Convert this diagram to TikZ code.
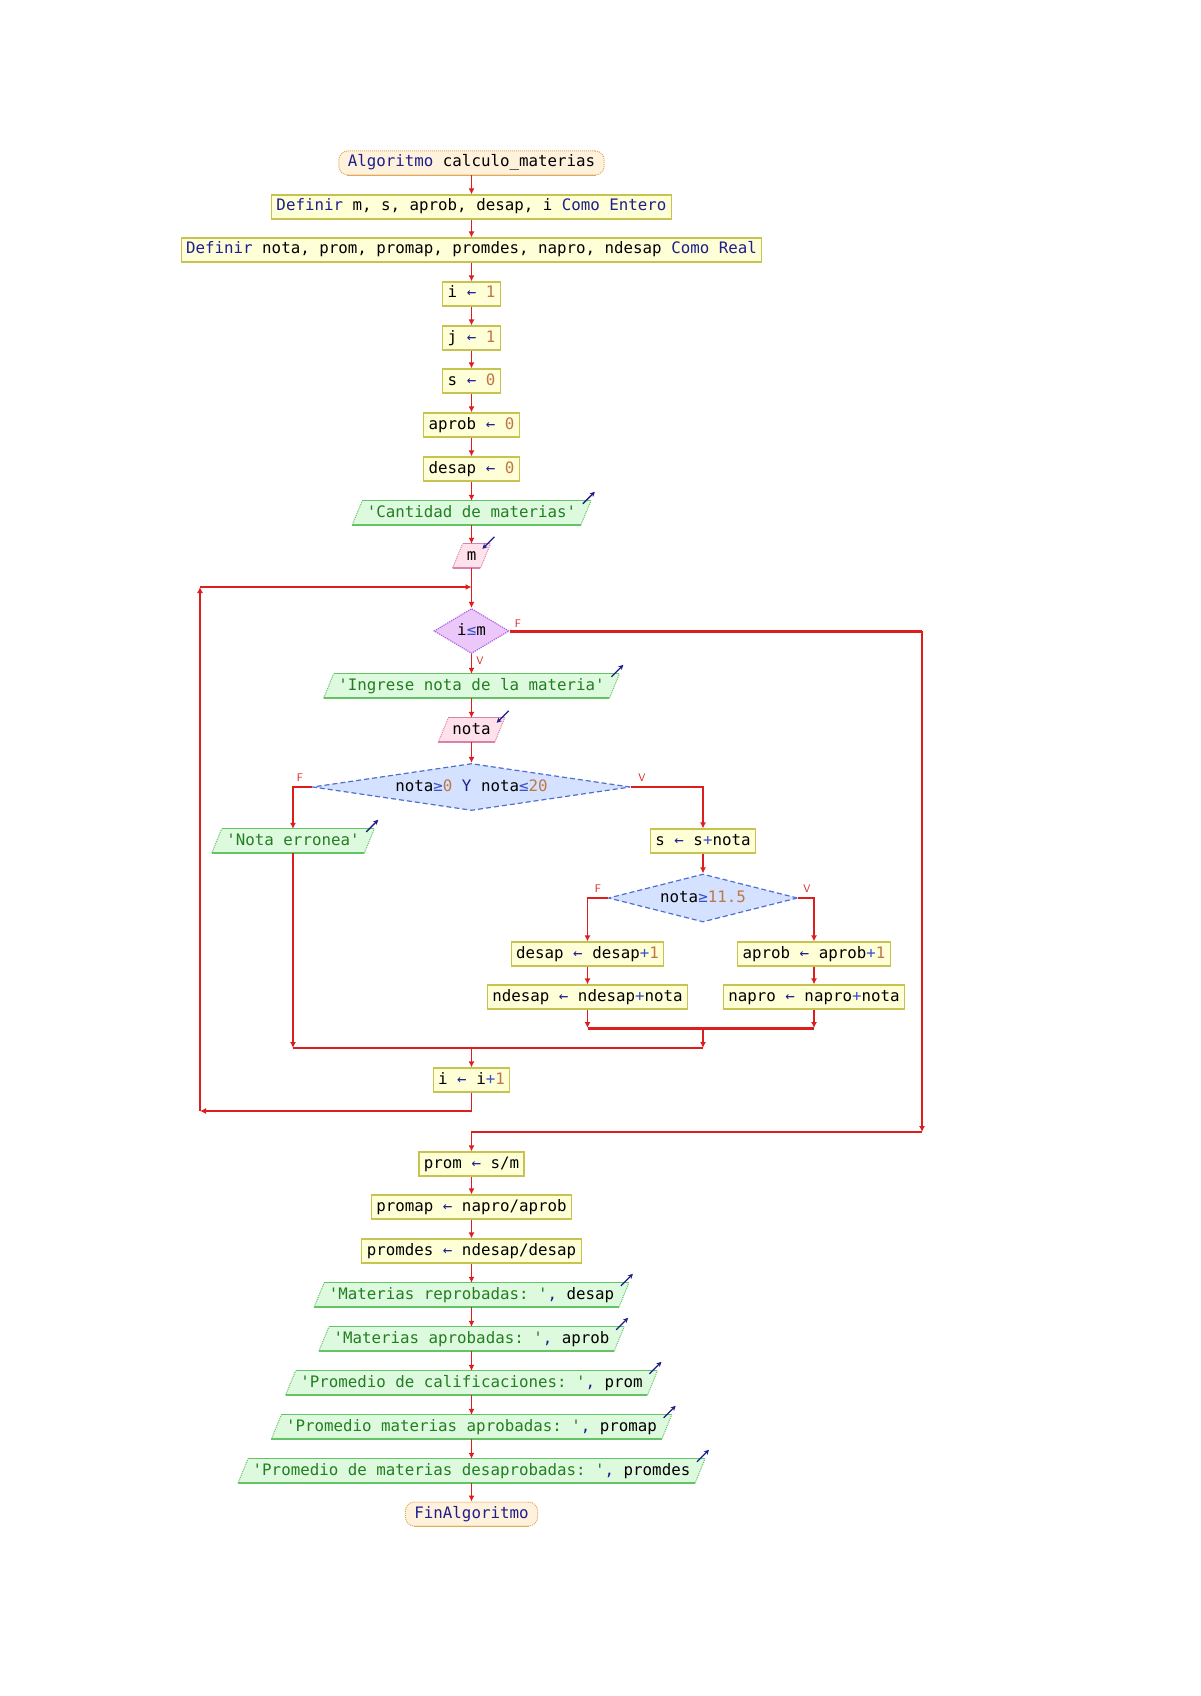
\documentclass[tikz,border=0pt]{standalone}
\usepackage{fontspec}
\setmainfont{DejaVu Sans}
\setmonofont{DejaVu Sans Mono}
\usetikzlibrary{shapes.geometric,arrows.meta,calc,backgrounds}
\definecolor{kwc}{RGB}{30,30,140}
\definecolor{numc}{RGB}{190,120,70}
\definecolor{strc}{RGB}{35,125,35}
\definecolor{opc}{RGB}{60,80,200}
\definecolor{linec}{RGB}{220,30,30}
\definecolor{procfill}{RGB}{255,255,215}
\definecolor{procdraw}{RGB}{200,195,80}
\definecolor{outfill}{RGB}{222,250,222}
\definecolor{outdraw}{RGB}{100,195,100}
\definecolor{infill}{RGB}{255,225,235}
\definecolor{indraw}{RGB}{215,130,170}
\definecolor{whilefill}{RGB}{236,200,250}
\definecolor{whiledraw}{RGB}{175,100,225}
\definecolor{iffill}{RGB}{212,226,255}
\definecolor{ifdraw}{RGB}{80,110,210}
\definecolor{startfill}{RGB}{255,242,220}
\definecolor{startdraw}{RGB}{225,170,90}
\newcommand{\kwd}[1]{\textcolor{kwc}{#1}}
\newcommand{\numb}[1]{\textcolor{numc}{#1}}
\newcommand{\strg}[1]{\textcolor{strc}{#1}}
\newcommand{\opr}[1]{\textcolor{opc}{#1}}
\newcommand{\asg}{\textcolor{kwc}{←}}
\newcommand{\paral}[3]{%
  \begin{scope}[on background layer]
  \fill[#2] ($(#1.south west)+(-5,0)$) -- ($(#1.south east)+(-5,0)$) -- ($(#1.north east)+(5,0)$) -- ($(#1.north west)+(5,0)$) -- cycle;
  \draw[#3, densely dotted, line width=1pt] ($(#1.south west)+(-5,0)$) -- ($(#1.north west)+(5,0)$) ($(#1.south east)+(-5,0)$) -- ($(#1.north east)+(5,0)$);
  \draw[#3, line width=1pt] ($(#1.north west)+(5,0)$) -- ($(#1.north east)+(5,0)$);
  \draw[#3, line width=2pt] ($(#1.south west)+(-5,0)$) -- ($(#1.south east)+(-5,0)$);
  \end{scope}}
\newcommand{\outsign}[1]{\draw[kwc, line width=1.3pt, -{Stealth[length=5pt,width=5pt]}] ($(#1.north east)+(5,0)+(-8,3)$) -- ($(#1.north east)+(5,0)+(4,-9)$);}
\newcommand{\insign}[1]{\draw[kwc, line width=1.3pt, -{Stealth[length=5pt,width=5pt]}] ($(#1.north east)+(5,0)+(4,-7)$) -- ($(#1.north east)+(5,0)+(-8,5)$);}
\tikzset{
  base/.style={font=\fontsize{15.8}{18}\selectfont\ttfamily, text=black, minimum height=24pt, inner ysep=0pt, text height=11.5pt, text depth=3.5pt},
  proc/.style={base, rectangle, fill=procfill, draw=procdraw, line width=1.2pt, inner xsep=5pt},
  startb/.style={base, rectangle, rounded corners=9pt, fill=startfill, draw=startdraw, densely dotted, line width=1pt, inner xsep=9pt},
  outb/.style={base, rectangle, inner xsep=9.5pt},
  inb/.style={base, rectangle, inner xsep=9pt},
  whileb/.style={base, diamond, aspect=1.67, inner sep=0pt, fill=whilefill, draw=whiledraw, densely dotted, line width=1.2pt, minimum width=75pt, minimum height=45pt},
  ifb/.style={base, diamond, inner sep=0pt, fill=iffill, draw=ifdraw, dash pattern=on 5pt off 3pt, line width=1.2pt},
  conn/.style={draw=linec, line width=1.5pt, -{Latex[length=6pt,width=6pt]}},
  wire/.style={draw=linec, line width=1.5pt},
  thickwire/.style={draw=linec, line width=3pt},
  lab/.style={font=\fontsize{11}{13}\selectfont\sffamily, text=linec, inner sep=0pt}
}
\begin{document}
\begin{tikzpicture}[x=1pt,y=-1pt]
\begin{scope}[on background layer]
\fill[white] (0,0) rectangle (1200,1696);
\end{scope}
\useasboundingbox (0,0) rectangle (1200,1696);
% nodes
\node[startb] (start) at (471.5,163) {\kwd{Algoritmo} calculo\_materias};
\node[proc] (defe) at (471.5,207) {\kwd{Definir} m, s, aprob, desap, i \kwd{Como Entero}};
\node[proc] (defr) at (471.5,250) {\kwd{Definir} nota, prom, promap, promdes, napro, ndesap \kwd{Como Real}};
\node[proc] (ai) at (471.5,294) {i \asg{} \numb{1}};
\node[proc] (aj) at (471.5,338) {j \asg{} \numb{1}};
\node[proc] (as) at (471.5,381) {s \asg{} \numb{0}};
\node[proc] (aap) at (471.5,425) {aprob \asg{} \numb{0}};
\node[proc] (ade) at (471.5,469) {desap \asg{} \numb{0}};
\node[outb] (ocant) at (471.5,513) {\strg{'Cantidad de materias'}};
\node[inb] (im) at (471.5,556) {m};
\node[whileb] (wh) at (471.5,631) {i\opr{≤}m};
\node[outb] (oing) at (471.5,686) {\strg{'Ingrese nota de la materia'}};
\node[inb] (inota) at (471.5,730) {nota};
\node[ifb, aspect=6.7, minimum width=318pt, minimum height=47pt] (if1) at (471.5,787) {nota\opr{≥}\numb{0} \kwd{Y} nota\opr{≤}\numb{20}};
\node[outb] (oerr) at (293,841) {\strg{'Nota erronea'}};
\node[proc] (ssum) at (703,841) {s \asg{} s\opr{+}nota};
\node[ifb, aspect=4, minimum width=189pt, minimum height=48pt] (if2) at (703,898) {nota\opr{≥}\numb{11.5}};
\node[proc] (dinc) at (587.5,954) {desap \asg{} desap\opr{+}\numb{1}};
\node[proc] (ainc) at (814,954) {aprob \asg{} aprob\opr{+}\numb{1}};
\node[proc] (ndes) at (587.5,997) {ndesap \asg{} ndesap\opr{+}nota};
\node[proc] (napr) at (814,997) {napro \asg{} napro\opr{+}nota};
\node[proc] (inc) at (471.5,1080) {i \asg{} i\opr{+}\numb{1}};
\node[proc] (prom) at (471.5,1164) {prom \asg{} s/m};
\node[proc] (promap) at (471.5,1207) {promap \asg{} napro/aprob};
\node[proc] (promdes) at (471.5,1251) {promdes \asg{} ndesap/desap};
\node[outb] (o1) at (471.5,1295) {\strg{'Materias reprobadas: '}\kwd{,} desap};
\node[outb] (o2) at (471.5,1339) {\strg{'Materias aprobadas: '}\kwd{,} aprob};
\node[outb] (o3) at (471.5,1383) {\strg{'Promedio de calificaciones: '}\kwd{,} prom};
\node[outb] (o4) at (471.5,1427) {\strg{'Promedio materias aprobadas: '}\kwd{,} promap};
\node[outb] (o5) at (471.5,1471) {\strg{'Promedio de materias desaprobadas: '}\kwd{,} promdes};
\node[startb] (fin) at (471.5,1514) {\kwd{FinAlgoritmo}};
% shapes of in/out nodes
\foreach \n in {ocant,oing,oerr,o1,o2,o3,o4,o5}{\paral{\n}{outfill}{outdraw}\outsign{\n}}
\foreach \n in {im,inota}{\paral{\n}{infill}{indraw}\insign{\n}}
\draw[startdraw, line width=1.5pt] ($(start.south west)+(9,0)$) -- ($(start.south east)+(-9,0)$);
\draw[startdraw, line width=1.5pt] ($(fin.south west)+(9,0)$) -- ($(fin.south east)+(-9,0)$);
% labels
\node[lab] (lwF) at (518,624) {F};
\node[lab] (lwV) at (480,661) {V};
\node[lab] (l1F) at (300,778) {F};
\node[lab] (l1V) at (642,778) {V};
\node[lab] (l2F) at (598,889) {F};
\node[lab] (l2V) at (807,889) {V};
% junction coordinates
\coordinate (lb) at (200,1111);
\coordinate (lt) at (200,587);
\coordinate (lj) at (471.5,587);
\coordinate (fr) at (922,631);
\coordinate (fb) at (922,1132);
\coordinate (mL) at (587.5,1028);
\coordinate (mR) at (814,1028);
\coordinate (mC) at (703,1028);
\coordinate (oL) at (293,1048);
\coordinate (oR) at (703,1048);
\coordinate (oC) at (471.5,1048);
% connectors
\draw[conn] (start) -- (defe);
\draw[conn] (defe) -- (defr);
\draw[conn] (defr) -- (ai);
\draw[conn] (ai) -- (aj);
\draw[conn] (aj) -- (as);
\draw[conn] (as) -- (aap);
\draw[conn] (aap) -- (ade);
\draw[conn] (ade) -- (ocant);
\draw[conn] (ocant) -- (im);
\draw[conn] (im) -- (wh);
\draw[conn] (wh) -- (oing);
\draw[conn] (oing) -- (inota);
\draw[conn] (inota) -- (if1);
\draw[conn] (if1.west) -| (oerr);
\draw[conn] (if1.east) -| (ssum);
\draw[conn] (ssum) -- (if2);
\draw[conn] (if2.west) -| (dinc);
\draw[conn] (if2.east) -| (ainc);
\draw[conn] (dinc) -- (ndes);
\draw[conn] (ainc) -- (napr);
\draw[conn] (ndes) -- (mL);
\draw[conn] (napr) -- (mR);
\draw[thickwire] (mL) -- (mR);
\draw[conn] (mC) -- (oR);
\draw[conn] (oerr) -- (oL);
\draw[wire] (oL) -- (oR);
\draw[conn] (oC) -- (inc);
\draw[conn] (inc) |- (lb);
\draw[conn] (lb) -- (lt);
\draw[conn] (lt) -- (lj);
\draw[thickwire] (wh.east) -- (fr);
\draw[conn] (fr) -- (fb);
\draw[conn] (fb) -| (prom);
\draw[conn] (prom) -- (promap);
\draw[conn] (promap) -- (promdes);
\draw[conn] (promdes) -- (o1);
\draw[conn] (o1) -- (o2);
\draw[conn] (o2) -- (o3);
\draw[conn] (o3) -- (o4);
\draw[conn] (o4) -- (o5);
\draw[conn] (o5) -- (fin);
\end{tikzpicture}
\end{document}
